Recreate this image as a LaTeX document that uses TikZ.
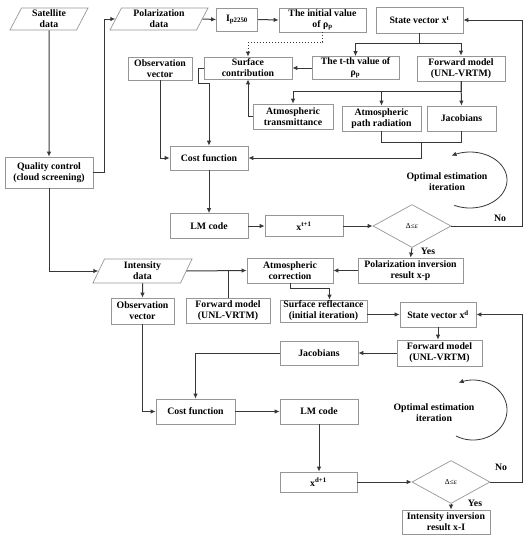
\documentclass[tikz,border=0pt]{standalone}
\usepackage{fontspec}
\setmainfont{Liberation Serif}
\usetikzlibrary{calc,shapes.geometric,arrows.meta}
\definecolor{boxgray}{RGB}{150,150,150}
\definecolor{linegray}{RGB}{55,55,55}
\def\rx{37}
\def\ry{28}
\def\xr{522}

\tikzset{
	box/.style 2 args={draw=boxgray, line width=0.7pt, fill=white, minimum width=#1, minimum height=#2, inner sep=1pt, align=center},
	data/.style 2 args={trapezium, trapezium left angle=60, trapezium right angle=120, trapezium stretches body, draw=boxgray, line width=0.7pt, minimum width=#1, minimum height=#2, inner sep=1pt, align=center},
	test/.style={diamond, draw=boxgray, line width=0.7pt, minimum width=78pt, minimum height=43pt, inner sep=0pt, font=\fontsize{7.5}{8}\selectfont},
	label/.style={align=center, inner sep=1pt},
	arr/.style={draw=linegray, line width=1pt, -{Latex[length=5pt,width=4.5pt]}},
	link/.style={draw=linegray, line width=1pt},
	loop/.style={draw=linegray, line width=0.8pt, -{Latex[length=5pt,width=4.5pt]}},
}

\begin{document}
\begin{tikzpicture}[x=1pt, y=-1pt, font=\bfseries\fontsize{9.8}{11}\selectfont]
		\useasboundingbox (0,0) rectangle (525,550);
		
		% Inputs
		\node[data={78pt}{22pt}] (sat) at (49,19) {Satellite\\data};
		\node[box={88pt}{31pt}] (qc) at (49,172.5) {Quality control\\(cloud screening)};
		\node[data={98pt}{22pt}] (pol) at (159,19) {Polarization\\data};
		\node[data={99pt}{24pt}] (idat) at (142.5,271) {Intensity\\data};
		
		% Polarization retrieval
		\node[box={41pt}{23pt}] (ip) at (237,19.5) {I\textsubscript{p2250}};
		\node[box={87pt}{24pt}] (init) at (322.5,20) {The initial value\\of ρ\textsubscript{p}};
		\node[box={87pt}{26pt}] (sxt) at (419.5,20) {State vector x\textsuperscript{t}};
		\node[box={88pt}{22pt}] (surf) at (248,68) {Surface\\contribution};
		\node[box={87pt}{22pt}] (tth) at (355.5,68) {The t-th value of\\ρ\textsubscript{p}};
		\node[box={88pt}{25pt}] (fm1) at (461,68.5) {Forward model\\(UNL-VRTM)};
		\node[box={64pt}{23pt}] (obs1) at (160,68.5) {Observation\\vector};
		\node[box={80pt}{25pt}] (atr) at (293,116.5) {Atmospheric\\transmittance};
		\node[box={79pt}{25pt}] (apr) at (381.5,118.5) {Atmospheric\\path radiation};
		\node[box={69pt}{25pt}] (jac1) at (461.5,118.5) {Jacobians};
		\node[box={78pt}{24pt}] (cost1) at (209,158) {Cost function};
		\node[box={78pt}{25pt}] (lm1) at (209,226) {LM code};
		\node[box={78pt}{21pt}] (xt1) at (304,226) {x\textsuperscript{t+1}};
		\node[test] (dia1) at (412,226) {Δ≤ε};
		\node[box={105pt}{25pt}] (pir) at (410.5,270.5) {Polarization inversion\\result x-p};
		\node[label] (oei1) at (447,181.5) {Optimal estimation\\iteration};
		\node (no1) at (500,218) {No};
		\node (yes1) at (428,251) {Yes};
		
		% Intensity retrieval
		\node[box={86pt}{25pt}] (acor) at (290,270.5) {Atmospheric\\correction};
		\node[box={84pt}{25pt}] (fm2) at (228,310.5) {Forward model\\(UNL-VRTM)};
		\node[box={63pt}{26pt}] (obs2) at (142.5,311) {Observation\\vector};
		\node[box={87pt}{22pt}] (srf) at (323.5,311) {Surface reflectance\\(initial iteration)};
		\node[box={76pt}{25pt}] (sxd) at (438,314.5) {State vector x\textsuperscript{d}};
		\node[box={85pt}{26pt}] (fm3) at (439.5,353) {Forward model\\(UNL-VRTM)};
		\node[box={78pt}{24pt}] (jac2) at (319,353) {Jacobians};
		\node[box={79pt}{25pt}] (cost2) at (195.5,411.5) {Cost function};
		\node[box={78pt}{25pt}] (lm2) at (319,411.5) {LM code};
		\node[box={77pt}{20pt}] (xd1) at (318.5,482) {x\textsuperscript{d+1}};
		\node[test] (dia2) at (451,482) {Δ≤ε};
		\node[box={88pt}{24pt}] (iir) at (446,522) {Intensity inversion\\result x-I};
		\node[label] (oei2) at (434,413) {Optimal estimation\\iteration};
		\node (no2) at (501,467) {No};
		\node (yes2) at (475,503) {Yes};
		
		% Connectors, polarization
		\draw[arr] (sat.south) -- (qc.north);
		\draw[arr] (qc.east) -- ++(11,0) |- (pol.west);
		\draw[arr] (pol.east) -- (ip.west);
		\draw[arr] (ip.east) -- (init.west);
		\draw[arr, dotted, line width=0.9pt] (init.south) -- ++(0,10) -| (surf.north);
		\draw[arr] (sxt.south) -- ++(0,10) -| (tth.north);
		\draw[arr] (sxt.south) -- ++(0,10) -| (fm1.north);
		\draw[arr] (tth.west) -- (surf.east);
		\draw[arr] (fm1.south) -- ++(0,10) -| (atr.north);
		\draw[arr] (fm1.south) -- ++(0,10) -| (apr.north);
		\draw[arr] (fm1.south) -- (jac1.north);
		\draw[arr] (atr.west) -| (surf.south);
		\draw[arr] (surf.west) -- ++(-5,0) -- ++(0,15) -| (cost1.north);
		\draw[arr] (obs1.south) |- (cost1.west);
		\draw[link] (apr.south) -- ++(0,11) -| (jac1.south);
		\coordinate (jn) at ($(apr.south)!0.5!(jac1.south)+(0,11)$);
		\draw[arr] (jn) |- (cost1.east);
		\draw[arr] (cost1.south) -- (lm1.north);
		\draw[arr] (lm1.east) -- (xt1.west);
		\draw[arr] (xt1.east) -- (dia1.west);
		\draw[arr] (dia1.east) -- (\xr,226) |- (sxt.east);
		\draw[arr] (dia1.south) -- (pir.north);
		\draw[arr] (pir.west) -- (acor.east);
		% loop 1
		\draw[loop] plot[domain=115:-120, samples=60] ({470+\rx*cos(\x)},{180+\ry*sin(\x)});
		
		% Connectors, intensity
		\draw[arr] (qc.south) |- (idat.west);
		\draw[arr] (idat.east) -- (acor.west);
		\draw[link] (fm2.north) -- (fm2.north |- idat.east);
		\draw[arr] (idat.south) -- (obs2.north);
		\draw[arr] (acor.south) -- ++(0,5) -| ([xshift=6pt]srf.north);
		\draw[arr] (sxd.west -| srf.east) -- (sxd.west);
		\draw[arr] (sxd.south) -- (sxd.south |- fm3.north);
		\draw[arr] (fm3.west) -- (jac2.east);
		\draw[arr] (jac2.west) -| (cost2.north);
		\draw[arr] (obs2.south) |- (cost2.west);
		\draw[arr] (cost2.east) -- (lm2.west);
		\draw[arr] (lm2.south) -- (lm2.south |- xd1.north);
		\draw[arr] (xd1.east) -- (dia2.west);
		\draw[arr] (dia2.east) -- (\xr,482) |- (sxd.east);
		\draw[arr] (dia2.south) -- (dia2.south |- iir.north);
		% loop 2
		\draw[loop] plot[domain=120:-115, samples=60] ({473+34*cos(\x)},{410+30*sin(\x)});
	\end{tikzpicture}
\end{document}
